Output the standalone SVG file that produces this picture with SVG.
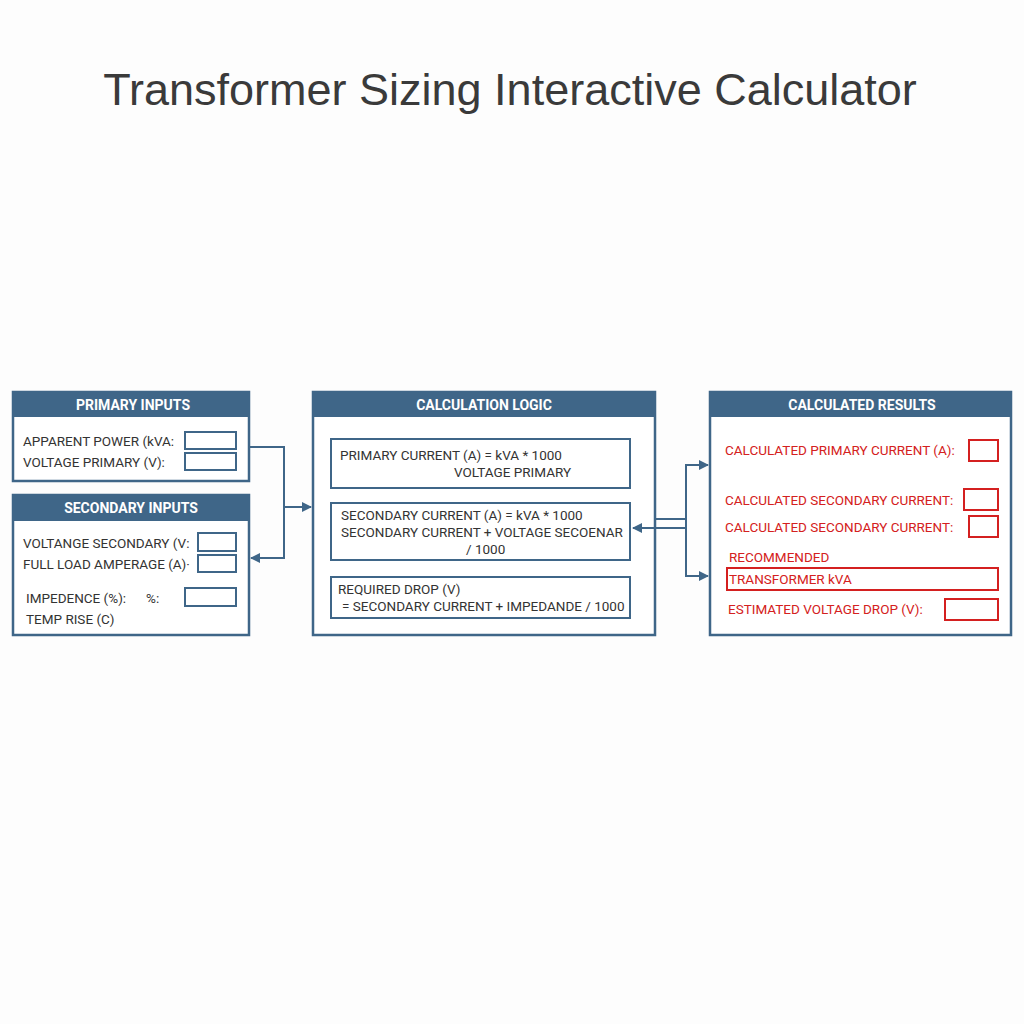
<svg xmlns="http://www.w3.org/2000/svg" width="1024" height="1024" viewBox="0 0 1024 1024">
<style>
.panel{fill:#fff;stroke:#3f6688;stroke-width:2.5}
.hdr{fill:#3f6688}
.ht{font-family:"Roboto","Liberation Sans",sans-serif;font-weight:bold;font-size:14px;fill:#fff;text-anchor:middle}
.t{font-family:"Roboto","Liberation Sans",sans-serif;font-size:13.5px;fill:#333}
.r{font-family:"Roboto","Liberation Sans",sans-serif;font-size:13.5px;fill:#d42020}
.in{fill:#fff;stroke:#3f6688;stroke-width:2}
.rb{fill:#fff;stroke:#d42020;stroke-width:2}
.c{fill:none;stroke:#3f6688;stroke-width:2}
</style>
<defs><marker id="ah" viewBox="0 0 10 10" refX="9" refY="5" markerWidth="5" markerHeight="5" orient="auto"><path d="M0,0L10,5L0,10z" fill="#3f6688"/></marker></defs>
<rect width="1024" height="1024" fill="#fdfdfd"/>
<text x="510" y="105" text-anchor="middle" font-family="Liberation Sans,Arial,sans-serif" font-size="45" fill="#3a3a3a">Transformer Sizing Interactive Calculator</text>
<g id="primary">
<rect class="panel" x="13" y="392" width="236" height="89"/>
<rect class="hdr" x="13" y="392" width="236" height="25"/>
<text class="ht" x="133" y="410">PRIMARY INPUTS</text>
<text class="t" x="23" y="446">APPARENT POWER (kVA:</text>
<text class="t" x="23" y="467">VOLTAGE PRIMARY (V):</text>
<rect class="in" x="185" y="432" width="51" height="17"/>
<rect class="in" x="185" y="453" width="51" height="17"/>
</g>
<g id="secondary">
<rect class="panel" x="13" y="495" width="236" height="140"/>
<rect class="hdr" x="13" y="495" width="236" height="26"/>
<text class="ht" x="131" y="513">SECONDARY INPUTS</text>
<text class="t" x="23" y="548">VOLTANGE SECONDARY (V:</text>
<text class="t" x="23" y="569">FULL LOAD AMPERAGE (A)·</text>
<text class="t" x="26" y="603">IMPEDENCE (%):</text>
<text class="t" x="146" y="603">%:</text>
<text class="t" x="26" y="624">TEMP RISE (C)</text>
<rect class="in" x="198" y="533" width="38" height="18"/>
<rect class="in" x="198" y="555" width="38" height="17"/>
<rect class="in" x="185" y="588" width="51" height="18"/>
</g>
<g id="logic">
<rect class="panel" x="313" y="392" width="342" height="243"/>
<rect class="hdr" x="313" y="392" width="342" height="25"/>
<text class="ht" x="484" y="410">CALCULATION LOGIC</text>
<rect class="in" x="331" y="439" width="299" height="49"/>
<text class="t" x="340" y="460">PRIMARY CURRENT (A) = kVA * 1000</text>
<text class="t" x="454" y="477">VOLTAGE PRIMARY</text>
<rect class="in" x="331" y="503" width="299" height="57"/>
<text class="t" x="341" y="520">SECONDARY CURRENT (A) = kVA  * 1000</text>
<text class="t" x="341" y="537">SECONDARY CURRENT + VOLTAGE SECOENAR</text>
<text class="t" x="466" y="554">/ 1000</text>
<rect class="in" x="331" y="577" width="299" height="41"/>
<text class="t" x="338" y="594">REQUIRED DROP (V)</text>
<text class="t" x="342" y="611">= SECONDARY CURRENT + IMPEDANDE / 1000</text>
</g>
<g id="results">
<rect class="panel" x="710" y="392" width="301" height="243"/>
<rect class="hdr" x="710" y="392" width="301" height="25"/>
<text class="ht" x="862" y="410">CALCULATED RESULTS</text>
<text class="r" x="725" y="455">CALCULATED PRIMARY CURRENT (A):</text>
<rect class="rb" x="969" y="440" width="29" height="21"/>
<text class="r" x="725" y="505">CALCULATED SECONDARY CURRENT:</text>
<rect class="rb" x="964" y="489" width="34" height="21"/>
<text class="r" x="725" y="532">CALCULATED SECONDARY CURRENT:</text>
<rect class="rb" x="969" y="516" width="29" height="21"/>
<text class="r" x="729" y="562">RECOMMENDED</text>
<rect class="rb" x="727" y="568" width="271" height="22"/>
<text class="r" x="729" y="584">TRANSFORMER kVA</text>
<text class="r" x="728" y="614">ESTIMATED VOLTAGE DROP (V):</text>
<rect class="rb" x="945" y="599" width="53" height="21"/>
</g>
<g id="connectors">
<path class="c" d="M249,447H284V558H251" marker-end="url(#ah)"/>
<path class="c" d="M284,507H311" marker-end="url(#ah)"/>
<path class="c" d="M655,519H686V465H708" marker-end="url(#ah)"/>
<path class="c" d="M686,519V576H708" marker-end="url(#ah)"/>
<path class="c" d="M686,528H633" marker-end="url(#ah)"/>
</g>
</svg>
